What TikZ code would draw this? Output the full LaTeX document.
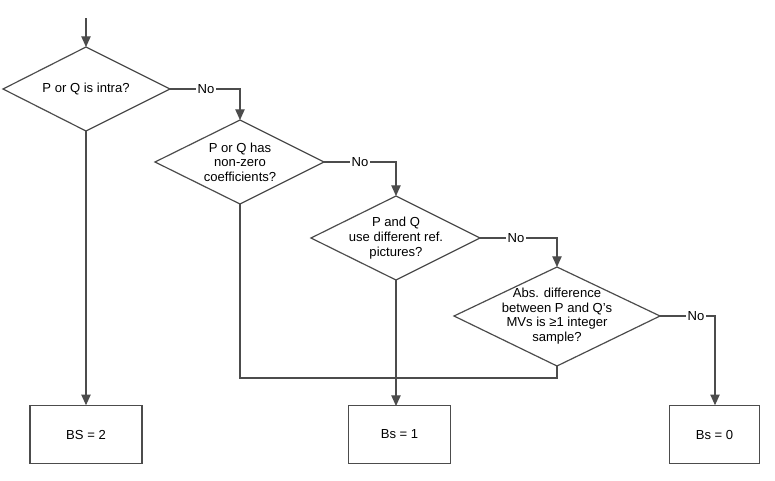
\documentclass[tikz,border=0pt]{standalone}
\usepackage{fontspec}
\setmainfont{Liberation Sans}
\usetikzlibrary{shapes.geometric,arrows.meta}
\begin{document}
\begin{tikzpicture}[x=0.75pt,y=-0.75pt,
  line/.style={draw=black!70,line width=0.9pt},
  arr/.style={line,-{Triangle[length=8pt,width=7pt]}},
  dia/.style={line,fill=white,font=\fontsize{9.8}{11}\selectfont,align=center,inner sep=0pt},
  box/.style={line,fill=white,font=\fontsize{9.8}{11}\selectfont},
  lab/.style={fill=white,font=\fontsize{9.8}{11}\selectfont,inner sep=1pt}]
\useasboundingbox (0,0) rectangle (775,480);
\coordinate (s) at (86,18);
\path[dia] (3,89)--(86,47)--(170,89)--(86,131)--cycle; \node[dia,draw=none,fill=none] (d1) at (86,89) {P or Q is intra?};
\path[dia] (155,162)--(240,120)--(324,162)--(240,204)--cycle; \node[dia,draw=none,fill=none] (d2) at (240,162) {P or Q has\\non-zero\\coefficients?};
\path[dia] (311,238)--(396,196)--(480,238)--(396,280)--cycle; \node[dia,draw=none,fill=none] (d3) at (396,238) {P and Q\\use different ref.\\pictures?};
\path[dia] (454,316)--(557,267)--(660,316)--(557,366)--cycle; \node[dia,draw=none,fill=none] (d4) at (557,316) {Abs. difference\\between P and Q's\\MVs is ≥1 integer\\sample?};
\node[box,minimum width=84pt,minimum height=43pt] (b1) at (86,434.5) {BS = 2};
\node[box,minimum width=77pt,minimum height=43pt] (b2) at (399.5,434.5) {Bs = 1};
\node[box,minimum width=68pt,minimum height=43pt] (b3) at (714.5,434.5) {Bs = 0};
\coordinate (d1t) at (86,47); \coordinate (d1r) at (170,89); \coordinate (d1b) at (86,131);
\coordinate (d2t) at (240,120); \coordinate (d2r) at (324,162); \coordinate (d2b) at (240,204);
\coordinate (d3t) at (396,196); \coordinate (d3r) at (480,238); \coordinate (d3b) at (396,280);
\coordinate (d4t) at (557,267); \coordinate (d4r) at (660,316); \coordinate (d4b) at (557,366);
\draw[arr] (s) -- (d1t);
\draw[arr] (d1r) -- (240,89) -- (d2t); \node[lab] at (206,89) {No};
\draw[arr] (d2r) -- (396,162) -- (d3t); \node[lab] at (360,162) {No};
\draw[arr] (d3r) -- (557,238) -- (d4t); \node[lab] at (516,238) {No};
\draw[arr] (d4r) -- (715,316) -- (b3.north -| 715,0); \node[lab] at (696,316) {No};
\draw[arr] (d1b) -- (b1.north);
\draw[line] (d2b) -- (240,378) -- (557,378) -- (d4b);
\draw[arr] (d3b) -- (396,406);
\end{tikzpicture}
\end{document}
